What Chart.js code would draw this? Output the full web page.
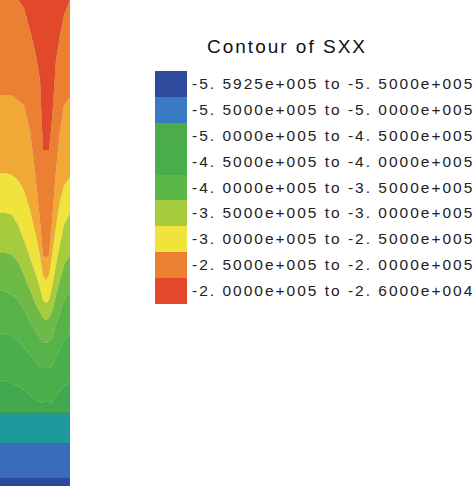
<!DOCTYPE html>
<html>
<head>
<meta charset="utf-8">
<script src="https://cdn.jsdelivr.net/npm/chart.js@4"></script>
<style>
  body { margin: 0; width: 474px; height: 486px; background: #fff; position: relative; overflow: hidden; font-family: 'Liberation Sans', Arial, sans-serif; }
  #wrap { position: absolute; left: 0; top: 0; width: 70px; height: 486px; }
  #title { position: absolute; left: 207px; top: 36px; font-size: 19px; letter-spacing: 2px; color: #111; white-space: nowrap; }
  #legend { position: absolute; left: 155px; top: 71px; }
  .row { display: flex; align-items: center; height: 25.9px; white-space: nowrap; }
  .box { width: 32px; height: 25.9px; }
  .txt { margin-left: 5px; font-size: 15.5px; letter-spacing: 2px; color: #222; }
</style>
</head>
<body>
<div id="wrap"><canvas id="c"></canvas></div>
<div id="title">Contour of SXX</div>
<div id="legend"></div>
<script>
// horizontal positions across the strip
const xs = [0, 6, 12, 18, 24, 30, 36, 40, 43, 46, 49, 52, 56, 60, 64, 70]

// depth of the lower edge of each band, top to bottom
const bandNames = ['red', 'orange', 'amber', 'yellow', 'yellowGreen', 'green1', 'green2', 'green3', 'green4', 'teal', 'blue', 'darkBlue']
const bandColors = ['#e2482a', '#ec8032', '#f2a834', '#f0e43c', '#a6cb3c', '#6dbb46', '#55b34a', '#4aae4a', '#42a84e', '#1f9a9c', '#3a6cbc', '#2a4a9a']
const bandBottoms = [
  [0, 0, 0, 0, 8, 30, 55, 80, 150, 150, 150, 120, 60, 35, 15, 0],
  [95, 95, 95, 100, 105, 130, 180, 220, 255, 258, 255, 220, 170, 130, 105, 97],
  [173, 173, 175, 180, 190, 210, 235, 255, 275, 280, 275, 255, 225, 200, 185, 177],
  [213, 213, 215, 225, 240, 258, 275, 288, 300, 303, 300, 288, 265, 245, 225, 213],
  [253, 253, 255, 262, 275, 290, 305, 312, 318, 320, 318, 312, 295, 280, 265, 255],
  [290, 292, 295, 300, 310, 322, 332, 338, 342, 343, 342, 338, 325, 312, 300, 292],
  [333, 334, 336, 340, 347, 355, 362, 366, 368, 368, 368, 366, 358, 348, 340, 334],
  [380, 381, 383, 386, 390, 395, 400, 402, 403, 403, 403, 402, 397, 391, 386, 382],
  [413, 413, 413, 413, 413, 413, 413, 413, 413, 413, 413, 413, 413, 413, 413, 413],
  [443, 443, 443, 443, 443, 443, 443, 443, 443, 443, 443, 443, 443, 443, 443, 443],
  [478, 478, 478, 478, 478, 478, 478, 478, 478, 478, 478, 478, 478, 478, 478, 478],
  [486, 486, 486, 486, 486, 486, 486, 486, 486, 486, 486, 486, 486, 486, 486, 486]
]

// legend
const legendColors = ['#2d4a9c', '#3a7ac4', '#4aad4a', '#48ad4a', '#5ab748', '#a6cb3c', '#f0e43c', '#ec8032', '#e2482a']
const legendLabels = [
  '-5. 5925e+005 to -5. 5000e+005',
  '-5. 5000e+005 to -5. 0000e+005',
  '-5. 0000e+005 to -4. 5000e+005',
  '-4. 5000e+005 to -4. 0000e+005',
  '-4. 0000e+005 to -3. 5000e+005',
  '-3. 5000e+005 to -3. 0000e+005',
  '-3. 0000e+005 to -2. 5000e+005',
  '-2. 5000e+005 to -2. 0000e+005',
  '-2. 0000e+005 to -2. 6000e+004'
]

const legend = document.getElementById('legend')
legendLabels.forEach((label, i) => {
  const row = document.createElement('div')
  row.className = 'row'
  row.innerHTML = '<div class="box" style="background:' + legendColors[i] + '"></div><div class="txt">' + label + '</div>'
  legend.appendChild(row)
})

// top edge line, then each band fills up to the previous line
const datasets = [{
  data: xs.map(x => ({ x, y: 0 })),
  borderWidth: 0, pointRadius: 0, fill: false
}]
bandBottoms.forEach((ys, i) => {
  datasets.push({
    label: bandNames[i],
    data: xs.map((x, j) => ({ x, y: ys[j] })),
    borderColor: 'rgba(0,0,0,0.08)',
    borderWidth: 0.6,
    pointRadius: 0,
    backgroundColor: bandColors[i],
    fill: '-1'
  })
})

new Chart(document.getElementById('c'), {
  type: 'line',
  data: { datasets },
  options: {
    responsive: true,
    maintainAspectRatio: false,
    animation: false,
    layout: { padding: 0 },
    plugins: { legend: { display: false }, tooltip: { enabled: false } },
    scales: {
      x: { type: 'linear', min: 0, max: 70, display: false },
      y: { min: 0, max: 486, reverse: true, display: false }
    }
  }
})
</script>
</body>
</html>
